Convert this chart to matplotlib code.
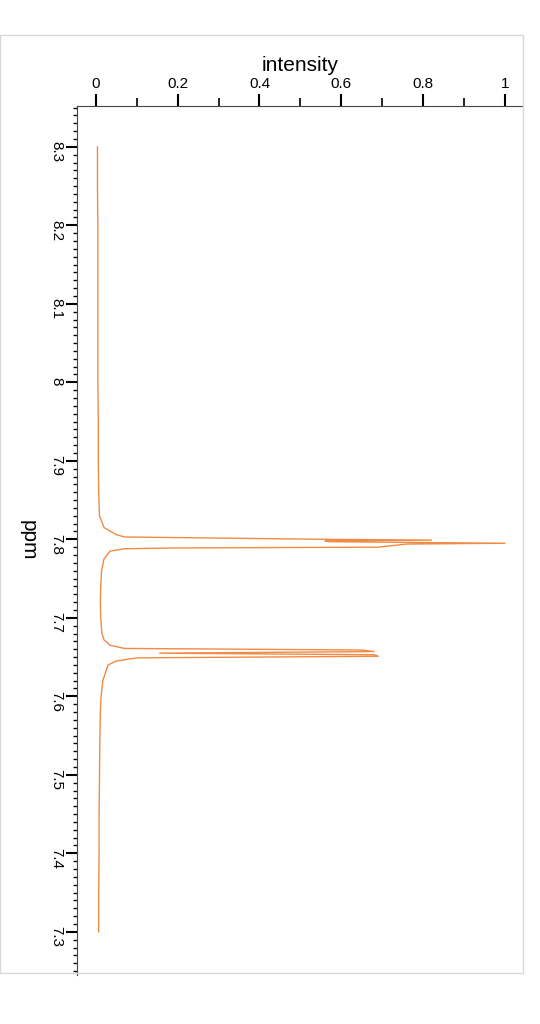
import matplotlib.pyplot as plt
import matplotlib.patches as patches
from matplotlib.ticker import MultipleLocator

plt.rcParams['font.family'] = ['Liberation Sans', 'DejaVu Sans']

# spectrum (ppm, intensity)
ppm = [8.30, 8.25, 8.20, 8.15, 8.10, 8.05, 8.00, 7.95, 7.90, 7.86, 7.83, 7.815, 7.806, 7.803,
       7.800, 7.799, 7.798, 7.797, 7.796, 7.795, 7.794, 7.790, 7.789, 7.788, 7.785, 7.775,
       7.76, 7.74, 7.72, 7.70, 7.68, 7.672, 7.665, 7.661, 7.659, 7.657, 7.655, 7.653, 7.651,
       7.649, 7.645, 7.64, 7.62, 7.60, 7.58, 7.55, 7.50, 7.45, 7.40, 7.35, 7.30]
intensity = [0.004, 0.004, 0.005, 0.005, 0.005, 0.005, 0.005, 0.006, 0.006, 0.007, 0.009, 0.02,
             0.05, 0.07, 0.56, 0.82, 0.56, 0.57, 0.78, 1.0, 0.76, 0.69, 0.20, 0.07, 0.035,
             0.02, 0.014, 0.012, 0.011, 0.012, 0.015, 0.02, 0.035, 0.07, 0.65, 0.68, 0.156,
             0.68, 0.69, 0.10, 0.05, 0.03, 0.017, 0.013, 0.011, 0.01, 0.009, 0.008, 0.008,
             0.007, 0.007]

fig = plt.figure(figsize=(5.4, 10.24), dpi=100)
fig.patches.append(patches.Rectangle((0, 1 - 973 / 1024), 523 / 540, 938 / 1024,
                                     transform=fig.transFigure, fill=False,
                                     edgecolor='#d8d8d8', linewidth=1))
ax = fig.add_axes([77 / 540, 1 - 975 / 1024, 446 / 540, 869 / 1024])
ax.plot(intensity, ppm, color='#f08a45', linewidth=1)

ax.set_xlim(-0.046, 1.044)
ax.set_ylim(7.245, 8.352)
ax.xaxis.tick_top()
ax.xaxis.set_label_position('top')
ax.set_xlabel('intensity', fontsize=15, labelpad=4)
ax.set_ylabel('ppm', fontsize=15, rotation=-90, labelpad=22)
ax.xaxis.set_major_locator(MultipleLocator(0.2))
ax.xaxis.set_minor_locator(MultipleLocator(0.05))
ax.yaxis.set_major_locator(MultipleLocator(0.1))
ax.yaxis.set_minor_locator(MultipleLocator(0.01))
ax.set_xticks([0.1, 0.3, 0.5, 0.7, 0.9], minor=True)
ax.tick_params(axis='x', which='major', length=9, width=1.5, labelsize=11, direction='out', pad=2)
ax.tick_params(axis='x', which='minor', length=6, width=1.2, direction='out')
ax.tick_params(axis='y', which='major', length=8, width=1.5, labelsize=11, labelrotation=-90, pad=2)
ax.tick_params(axis='y', which='minor', length=3, width=1)
ax.xaxis.set_major_formatter(lambda v, p: f'{v:g}')
ax.yaxis.set_major_formatter(lambda v, p: f'{v:g}')
for s in ['right', 'bottom']:
    ax.spines[s].set_visible(False)
for s in ['top', 'left']:
    ax.spines[s].set_color('#444444')

fig.savefig('out.png', dpi=100)
